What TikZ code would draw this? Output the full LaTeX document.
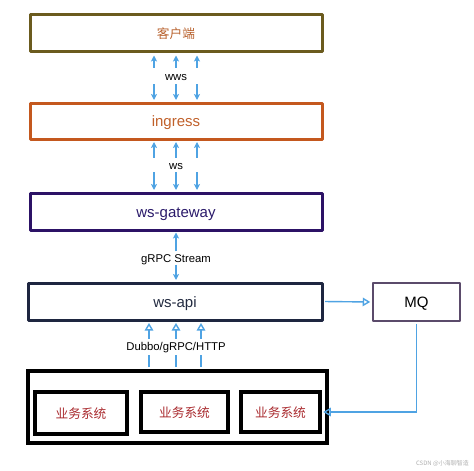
\documentclass[tikz,border=0pt]{standalone}
\usepackage{fontspec}
\setmainfont{Liberation Sans}
\newfontfamily\cjk{Noto Sans CJK SC}
\usetikzlibrary{arrows.meta}
\definecolor{clientc}{HTML}{6B5B1E}
\definecolor{clienttxt}{HTML}{B8622E}
\definecolor{ingc}{HTML}{C4581E}
\definecolor{ingtxt}{HTML}{C0602A}
\definecolor{gwc}{HTML}{2C1266}
\definecolor{gwtxt}{HTML}{2A1A6A}
\definecolor{apic}{HTML}{1E2640}
\definecolor{apitxt}{HTML}{222A40}
\definecolor{mqc}{HTML}{5B4B6B}
\definecolor{biztxt}{HTML}{A8282C}
\definecolor{arrc}{HTML}{4FA3E3}
\definecolor{wmc}{HTML}{B0B0B0}
\tikzset{
  layerbox/.style={draw, rectangle, line width=3pt, line cap=round, line join=round, inner sep=0pt, text height=12pt, text depth=1pt, font=\fontsize{15}{17}\selectfont},
  bizbox/.style={draw=black, rectangle, line width=3.5pt, line cap=round, inner sep=0pt, text height=11pt, text depth=0pt, text=biztxt, font=\cjk\fontsize{12.7}{14}\selectfont},
  lbl/.style={inner sep=0pt, text height=9pt, text depth=0pt, font=\fontsize{11.3}{13}\selectfont},
  blue arrow/.style={draw=arrc, line width=1.4pt, -{Stealth[length=6pt,width=6pt,inset=1.5pt]}},
  open arrow/.style={draw=arrc, line width=1.4pt, -{Triangle[open,length=7.5pt,width=8.5pt,line width=1.4pt]}}
}
\begin{document}
\begin{tikzpicture}[x=1pt,y=-1pt]
\useasboundingbox (0,0) rectangle (474,471);
% column coordinates
\coordinate (a1) at (154,0);
\coordinate (a2) at (176,0);
\coordinate (a3) at (197,0);
\coordinate (d1) at (149,0);
\coordinate (d2) at (176,0);
\coordinate (d3) at (201,0);
% layer boxes
\node[layerbox, draw=clientc, text=clienttxt, minimum width=292pt, minimum height=37pt, font=\cjk\fontsize{12.7}{14}\selectfont] (client) at (176,33) {客户端};
\node[layerbox, draw=ingc, text=ingtxt, minimum width=292pt, minimum height=36pt] (ingress) at (176,121) {ingress};
\node[layerbox, draw=gwc, text=gwtxt, minimum width=292pt, minimum height=37pt] (gateway) at (176,211.5) {ws-gateway};
\node[layerbox, draw=apic, text=apitxt, minimum width=294pt, minimum height=37pt] (api) at (175,301.5) {ws-api};
\node[layerbox, draw=mqc, text=black, line width=2.5pt, minimum width=87pt, minimum height=38pt] (mq) at (416.5,302) {MQ};
% business systems
\node[draw=black, rectangle, line width=4pt, line cap=round, minimum width=299pt, minimum height=72pt, inner sep=0pt] (biz) at (177.5,407) {};
\node[bizbox, minimum width=92pt, minimum height=42pt] (biz1) at (81,413) {业务系统};
\node[bizbox, minimum width=87pt, minimum height=40pt] (biz2) at (184.5,412) {业务系统};
\node[bizbox, minimum width=79pt, minimum height=40pt] (biz3) at (280.5,412) {业务系统};
% labels
\node[lbl, minimum height=16pt] (wws) at (176,76) {wws};
\node[lbl, minimum height=14pt] (ws) at (176,165) {ws};
\node[lbl, minimum height=13pt] (grpc) at (176,258) {gRPC Stream};
% client <-> ingress
\foreach \c in {a1,a2,a3}{
  \draw[blue arrow, shorten >=2.5pt] (wws.north -| \c) -- (client.south -| \c);
  \draw[blue arrow, shorten >=1.5pt] (wws.south -| \c) -- (ingress.north -| \c);
}
% ingress <-> gateway
\foreach \c in {a1,a2,a3}{
  \draw[blue arrow, shorten >=1.5pt] (ws.north -| \c) -- (ingress.south -| \c);
  \draw[blue arrow, shorten >=1.5pt] (ws.south -| \c) -- (gateway.north -| \c);
}
% gateway <-> api
\draw[blue arrow, shorten >=1pt] (grpc.north -| a2) -- (gateway.south -| a2);
\draw[blue arrow, shorten >=1.5pt] (grpc.south -| a2) -- (api.north -| a2);
% business -> api
\foreach \c in {d1,d2,d3}{
  \draw[open arrow, shorten <=2pt, shorten >=1.5pt] (biz.north -| \c) -- (api.south -| \c);
}
\node[lbl, fill=white, inner xsep=1pt, inner ysep=2pt, text depth=2.5pt] (dubbo) at (176,347) {Dubbo/gRPC/HTTP};
% api -> MQ, MQ -> business
\draw[open arrow, shorten <=1.5pt, shorten >=1.5pt] (api.east) -- (mq.west);
\draw[open arrow, shorten <=1.5pt, shorten >=1.5pt] (mq.south) |- (biz3.east);
% watermark
\node[anchor=east, text=wmc, inner sep=0pt, font=\cjk\fontsize{6}{7}\selectfont] (wm) at (469,463) {CSDN @小海聊智造};
\end{tikzpicture}
\end{document}
